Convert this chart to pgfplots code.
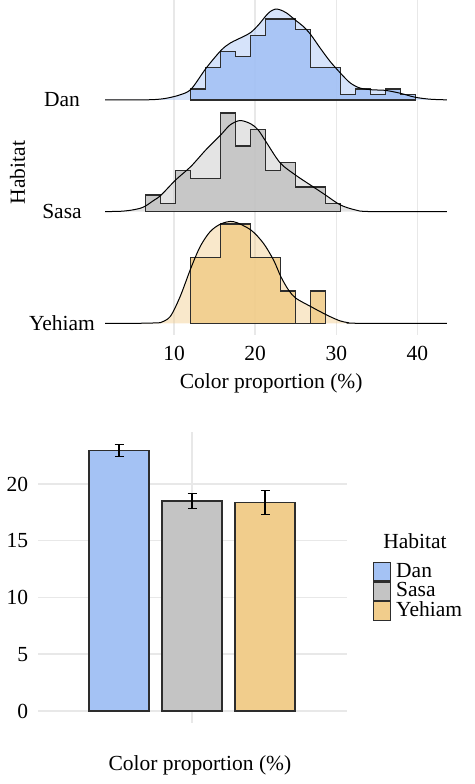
\documentclass[border=0pt]{standalone}
\usepackage{fontspec}
\setmainfont{Liberation Serif}
\usepackage{pgfplots}
\pgfplotsset{compat=1.18}
\definecolor{danc}{RGB}{164,194,244}
\definecolor{sasac}{RGB}{196,196,196}
\definecolor{yehc}{RGB}{241,205,140}
\definecolor{edge}{RGB}{45,45,45}
\definecolor{gridc}{RGB}{232,232,232}
\pgfplotsset{
  keybox/.style={legend image code/.code={\draw[##1] (0pt,-3.5pt) rectangle (17pt,15pt);}},
  dens/.style={draw=none, fill=#1, fill opacity=0.45, smooth},
  hist/.style={const plot, draw=edge, line width=1.3pt, fill=#1, fill opacity=0.9},
  dline/.style={smooth, black, line width=1pt},
  mbar/.style={ybar, bar width=0.822, bar shift=0pt, fill=#1, draw=edge, line width=1.2pt, keybox,
    error bars/.cd, y dir=both, y explicit, error mark=|,
    error bar style={line width=1.2pt, black},
    error mark options={line width=1.2pt, mark size=4.5pt, black}},
}

\begin{document}
\fontsize{21.5}{24}\selectfont
\begin{tikzpicture}
\useasboundingbox (0,0) rectangle (474pt,784pt);

% ridgelines
\begin{axis}[
  at={(88pt,449pt)}, anchor=south west,
  scale only axis, width=370pt, height=335pt,
  xmin=-0.6, xmax=45.0, ymin=0.895, ymax=3.894,
  axis line style={draw=none}, tick style={draw=none},
  xtick={10,20,30,40}, ytick={1,2,3}, yticklabels={Yehiam,Sasa,Dan},
  xmajorgrids, grid style={gridc, line width=1.5pt},
  /pgf/number format/assume math mode=true,
  xticklabel style={anchor=center, yshift=-18.3pt},
  yticklabel style={anchor=center, xshift=-26pt},
  xlabel={Color proportion (\%)}, ylabel={Habitat},
  xlabel style={at={(axis description cs:0.495,-0.143)}, anchor=center},
  ylabel style={at={(axis description cs:-0.1905,0.485)}, anchor=center},
]
% Dan
\addplot[dens=danc] coordinates {
  (1.50,3.000) (5.82,3.000) (7.67,3.003) (9.11,3.015) (10.75,3.045) (12.11,3.096)
  (13.96,3.284) (15.77,3.441) (16.92,3.508) (18.56,3.567) (19.47,3.604) (20.41,3.671)
  (21.32,3.752) (21.85,3.790) (22.47,3.812) (23.08,3.806) (23.91,3.776) (25.02,3.710)
  (25.96,3.656) (26.87,3.582) (28.02,3.463) (29.25,3.343) (30.48,3.242) (31.71,3.152)
  (32.95,3.105) (34.43,3.090) (36.03,3.085) (37.83,3.060) (39.68,3.024) (41.53,3.006)
  (43.64,3.000)} -- cycle;
\addplot[hist=danc] coordinates {
  (12.06,3) (12.06,3.096) (13.91,3.289) (15.75,3.434) (17.60,3.386) (19.45,3.578)
  (21.30,3.723) (23.14,3.723) (24.99,3.627) (26.84,3.289) (28.68,3.289) (30.53,3.048)
  (32.38,3.096) (34.22,3.048) (36.07,3.096) (37.92,3.048) (39.77,3)} -- cycle;
\addplot[dline] coordinates {
  (1.50,3.000) (5.82,3.000) (7.67,3.003) (9.11,3.015) (10.75,3.045) (12.11,3.096)
  (13.96,3.284) (15.77,3.441) (16.92,3.508) (18.56,3.567) (19.47,3.604) (20.41,3.671)
  (21.32,3.752) (21.85,3.790) (22.47,3.812) (23.08,3.806) (23.91,3.776) (25.02,3.710)
  (25.96,3.656) (26.87,3.582) (28.02,3.463) (29.25,3.343) (30.48,3.242) (31.71,3.152)
  (32.95,3.105) (34.43,3.090) (36.03,3.085) (37.83,3.060) (39.68,3.024) (41.53,3.006)
  (43.64,3.000)};
% Sasa
\addplot[dens=sasac] coordinates {
  (1.50,2.000) (3.35,2.002) (4.59,2.011) (5.82,2.029) (6.52,2.051) (7.42,2.096)
  (8.37,2.145) (10.22,2.284) (12.07,2.403) (13.92,2.552) (15.77,2.687) (16.92,2.776)
  (18.15,2.815) (19.47,2.785) (20.37,2.731) (21.32,2.627) (23.08,2.436) (24.93,2.329)
  (26.78,2.239) (28.63,2.150) (30.48,2.060) (32.33,2.015) (34.18,2.000) (43.64,2.000)} -- cycle;
\addplot[hist=sasac] coordinates {
  (6.52,2) (6.52,2.147) (8.37,2.073) (10.21,2.367) (12.06,2.294) (13.91,2.294)
  (15.75,2.881) (17.60,2.587) (19.45,2.734) (21.30,2.367) (23.14,2.440) (24.99,2.220)
  (26.84,2.220) (28.68,2.073) (30.53,2)} -- cycle;
\addplot[dline] coordinates {
  (1.50,2.000) (3.35,2.002) (4.59,2.011) (5.82,2.029) (6.52,2.051) (7.42,2.096)
  (8.37,2.145) (10.22,2.284) (12.07,2.403) (13.92,2.552) (15.77,2.687) (16.92,2.776)
  (18.15,2.815) (19.47,2.785) (20.37,2.731) (21.32,2.627) (23.08,2.436) (24.93,2.329)
  (26.78,2.239) (28.63,2.150) (30.48,2.060) (32.33,2.015) (34.18,2.000) (43.64,2.000)};
% Yehiam
\addplot[dens=yehc] coordinates {
  (1.50,1.000) (5.82,1.000) (7.67,1.003) (8.29,1.005) (9.52,1.059) (10.75,1.238)
  (12.07,1.492) (13.22,1.686) (14.45,1.820) (15.77,1.889) (17.32,1.910) (19.47,1.835)
  (21.02,1.716) (22.26,1.567) (23.17,1.417) (24.11,1.298) (25.02,1.224) (26.87,1.149)
  (28.02,1.104) (29.25,1.059) (30.48,1.021) (31.50,1.005) (32.54,1.000) (43.64,1.000)} -- cycle;
\addplot[hist=yehc] coordinates {
  (12.06,1) (12.06,1.588) (13.91,1.588) (15.75,1.889) (17.60,1.889) (19.45,1.588)
  (21.30,1.588) (23.14,1.289) (24.99,1) (26.84,1.289) (28.68,1)} -- cycle;
\addplot[dline] coordinates {
  (1.50,1.000) (5.82,1.000) (7.67,1.003) (8.29,1.005) (9.52,1.059) (10.75,1.238)
  (12.07,1.492) (13.22,1.686) (14.45,1.820) (15.77,1.889) (17.32,1.910) (19.47,1.835)
  (21.02,1.716) (22.26,1.567) (23.17,1.417) (24.11,1.298) (25.02,1.224) (26.87,1.149)
  (28.02,1.104) (29.25,1.059) (30.48,1.021) (31.50,1.005) (32.54,1.000) (43.64,1.000)};
\end{axis}

% means with error bars
\begin{axis}[
  at={(38pt,61pt)}, anchor=south west,
  scale only axis, width=309pt, height=291pt,
  xmin=-0.110, xmax=4.123, ymin=-1.06, ymax=24.58,
  axis line style={draw=none}, tick style={draw=none},
  xtick={2}, xticklabels={}, ytick={0,5,10,15,20},
  xmajorgrids, ymajorgrids, grid style={gridc, line width=1.5pt},
  /pgf/number format/assume math mode=true,
  yticklabel style={anchor=east, inner sep=0pt, xshift=-9.7pt},
  xlabel={Color proportion (\%)},
  xlabel style={at={(axis description cs:0.524,-0.144)}, anchor=center},
  legend style={at={(axis description cs:1.0841,0.5543)}, anchor=north west,
    draw=none, fill=none, inner sep=0pt, outer sep=0pt, row sep=0pt, column sep=5pt,
    nodes={inner sep=0pt, text height=15pt, text depth=3.5pt}, cells={anchor=base west}},
]
\addplot[mbar=danc] coordinates {(1,22.95) +- (0,0.55)};
\addlegendentry{Dan}
\addplot[mbar=sasac] coordinates {(2,18.5) +- (0,0.65)};
\addlegendentry{Sasa}
\addplot[mbar=yehc] coordinates {(3,18.39) +- (0,1.05)};
\addlegendentry{Yehiam}
\end{axis}
\node[anchor=base] at (415pt,235.7pt) {Habitat};
\end{tikzpicture}
\end{document}
